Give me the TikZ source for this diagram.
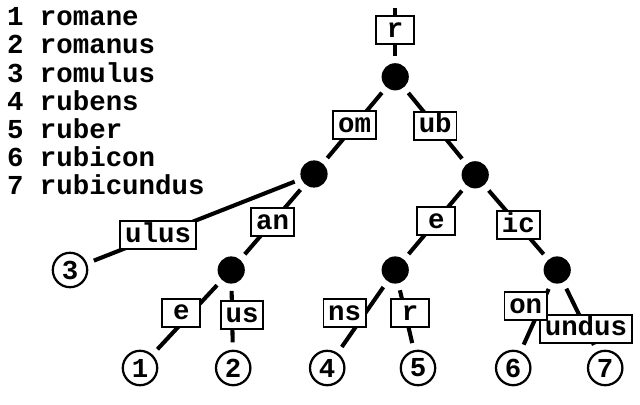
\documentclass[tikz,border=0pt]{standalone}
\usepackage{fontspec}
\setmonofont{Liberation Mono}
\usepackage{tikz}

\tikzset{
  txt/.style={font=\ttfamily\bfseries\fontsize{19.5pt}{23pt}\selectfont},
  dot/.style={circle,fill=black,minimum size=0.68cm,inner sep=0pt,outer sep=0.18cm},
  leaf/.style={txt,circle,draw,line width=1.6pt,minimum size=0.86cm,inner sep=0pt,outer sep=0.21cm},
  lab/.style={txt,draw,fill=white,line width=1.3pt,inner xsep=0.12cm,inner ysep=0pt,
    minimum height=0.7cm,minimum width=0.95cm,text height=0.36cm,text depth=0pt},
  edge/.style={line width=2.9pt}
}

\begin{document}
\begin{tikzpicture}
 \useasboundingbox (0,0) rectangle (16,10.1);

% list of the words
 \foreach \n/\w in {1/romane,2/romanus,3/romulus,4/rubens,5/ruber,6/rubicon,7/rubicundus}
   \node[txt,anchor=west,inner sep=0pt] (w\n) at (0.17,{9.68-0.7*(\n-1)}) {\n\ \w};

% inner nodes of the trie
 \coordinate (top) at (9.88,9.9);
 \node[dot] (root) at (9.88,8.18) {};
 \node[dot] (om) at (7.85,5.75) {};
 \node[dot] (ub) at (11.88,5.73) {};
 \node[dot] (oman) at (5.78,3.35) {};
 \node[dot] (ube) at (9.88,3.35) {};
 \node[dot] (ubic) at (13.93,3.35) {};

% leaves, one per word
 \node[leaf] (l1) at (3.5,0.9) {1};
 \node[leaf] (l2) at (5.83,0.9) {2};
 \node[leaf] (l3) at (1.75,3.35) {3};
 \node[leaf] (l4) at (8.18,0.9) {4};
 \node[leaf] (l5) at (10.45,0.9) {5};
 \node[leaf] (l6) at (12.83,0.9) {6};
 \node[leaf] (l7) at (15.13,0.9) {7};

% edges with their labels
 \draw[edge] (top) -- node[lab,pos=.46] {r} (root);
 \draw[edge] (root) -- node[lab] {om} (om);
 \draw[edge] (root) -- node[lab] {ub} (ub);
 \draw[edge] (om) -- node[lab,pos=.68] {ulus} (l3);
 \draw[edge] (om) -- node[lab] {an} (oman);
 \draw[edge] (oman) -- node[lab,pos=.43,xshift=-0.25cm] {e} (l1);
 \draw[edge] (oman) -- node[lab,pos=.47,xshift=0.25cm] {us} (l2);
 \draw[edge] (ub) -- node[lab,pos=.48] {e} (ube);
 \draw[edge] (ub) -- node[lab,pos=.54] {ic} (ubic);
 \draw[edge] (ube) -- node[lab,pos=.43,xshift=-0.52cm] {ns} (l4);
 \draw[edge] (ube) -- node[lab,pos=.43,xshift=0.12cm] {r} (l5);
 \draw[edge] (ubic) -- node[lab,pos=.71] {undus} (l7); % drawn first, on lies over it
 \draw[edge] (ubic) -- node[lab,pos=.31,xshift=-0.38cm] {on} (l6);

\end{tikzpicture}
\end{document}
